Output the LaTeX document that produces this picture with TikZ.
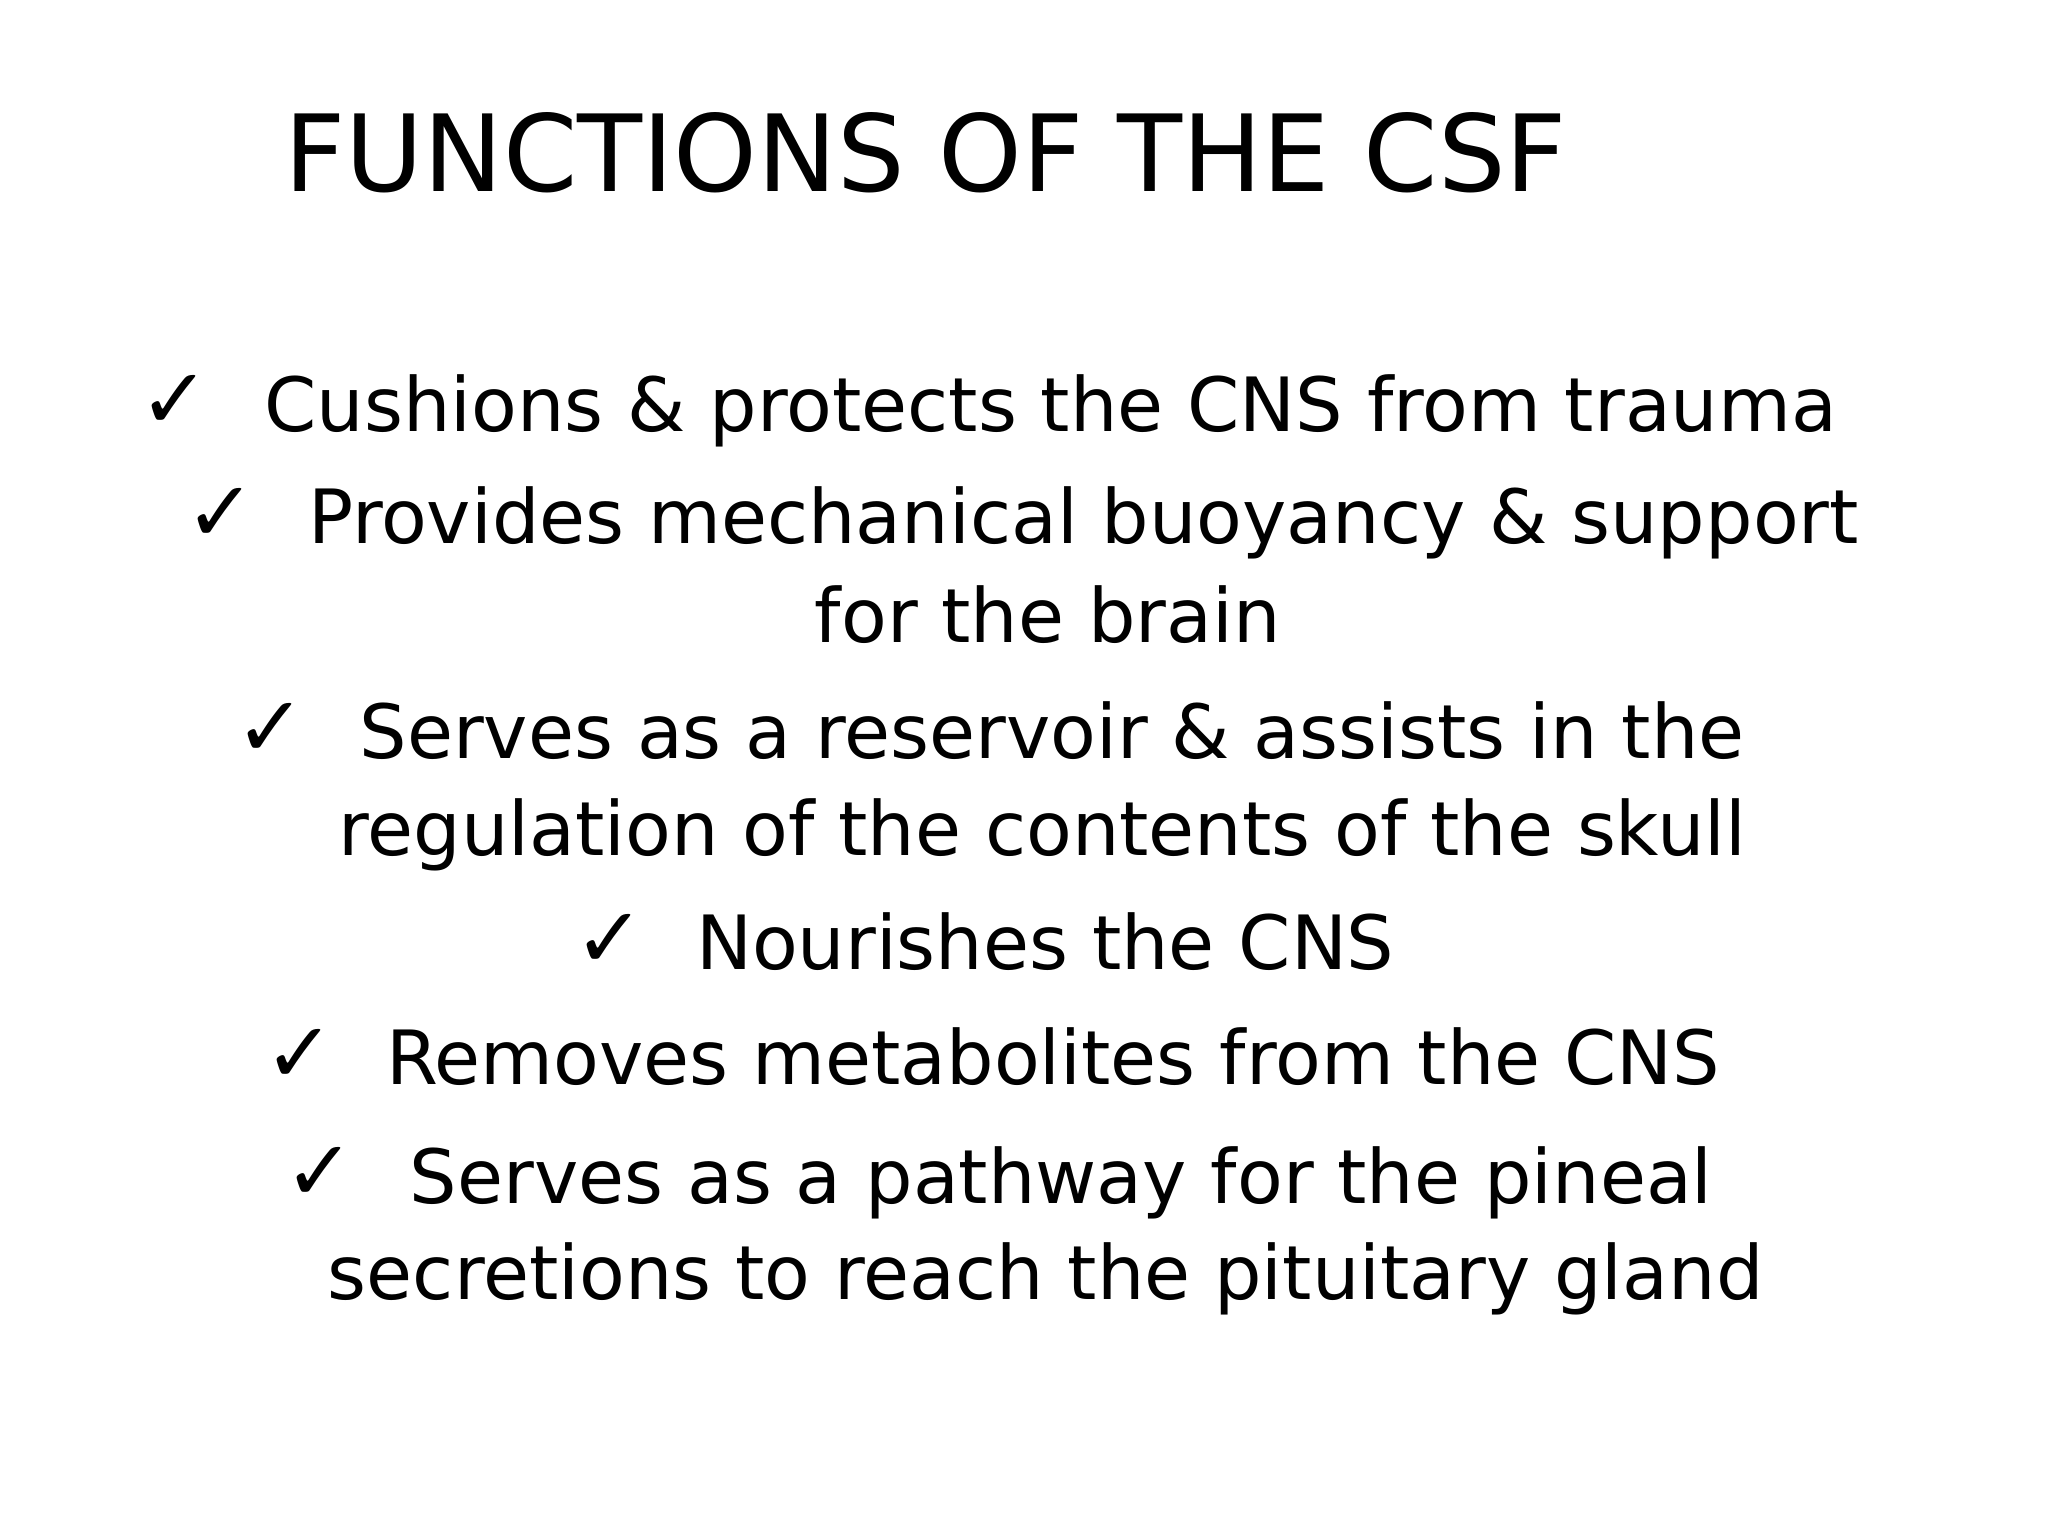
\documentclass[tikz,border=0pt]{standalone}
\usepackage{fontspec}
\setmainfont{DejaVu Sans}
\begin{document}
\begin{tikzpicture}[x=0.0132cm,y=-0.0132cm]
\tikzset{ln/.style={anchor=base west,inner sep=0pt,font=\fontsize{21.3}{26}\selectfont},
ck/.style={anchor=base west,inner sep=0pt,font=\fontsize{24}{28}\selectfont\bfseries}}
\useasboundingbox[fill=white] (0,0) rectangle (1552,1164);
\node[anchor=base west,inner sep=0pt,font=\fontsize{30.3}{36}\selectfont] (t) at (215,145) {FUNCTIONS OF THE CSF};
\node[ck] (c1) at (105,325) {✓}; \node[ln] (l1) at (200,327) {Cushions \& protects the CNS from trauma};
\node[ck] (c2) at (140,410) {✓}; \node[ln] (l2) at (233,412) {Provides mechanical buoyancy \& support};
\node[ln] (l3) at (617,487) {for the brain};
\node[ck] (c4) at (178,573) {✓}; \node[ln] (l4) at (272,575) {Serves as a reservoir \& assists in the};
\node[ln] (l5) at (256,648) {regulation of the contents of the skull};
\node[ck] (c6) at (435,733) {✓}; \node[ln] (l6) at (527,735) {Nourishes the CNS};
\node[ck] (c7) at (200,820) {✓}; \node[ln] (l7) at (292,822) {Removes metabolites from the CNS};
\node[ck] (c8) at (215,910) {✓}; \node[ln] (l8) at (310,912) {Serves as a pathway for the pineal};
\node[ln] (l9) at (248,985) {secretions to reach the pituitary gland};
\end{tikzpicture}
\end{document}
